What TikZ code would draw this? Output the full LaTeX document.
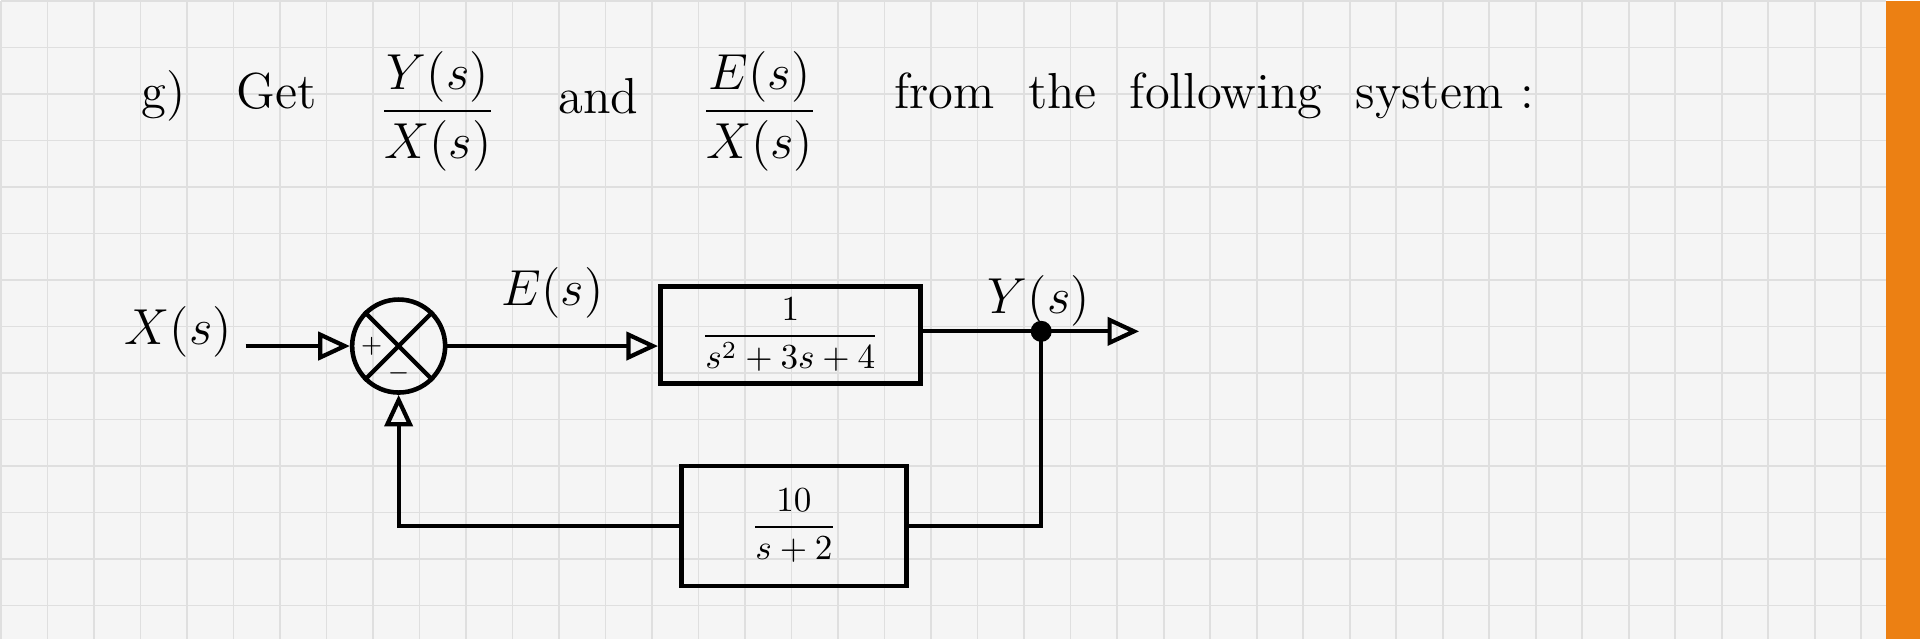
\documentclass[tikz,border=0pt]{standalone}
\usepackage{amsmath}
\usetikzlibrary{arrows.meta}
\begin{document}
\begin{tikzpicture}[x=0.012245cm,y=-0.012245cm,
  wire/.style={line width=1.2pt},
  arr/.style={wire,-{Triangle[open,length=9pt,width=8pt]}},
  lbl/.style={font=\Large}]
\fill[gray!8] (0,0) rectangle (1568,521);
\fill[orange!70!brown] (1540,0) rectangle (1568,521);
\foreach \i in {0,38,...,1540} \draw[gray!25,line width=0.5pt] (\i,0) -- (\i,521);
\foreach \j in {0,38,...,521} \draw[gray!25,line width=0.5pt] (0,\j) -- (1540,\j);
\useasboundingbox (0,0) rectangle (1568,521);
% title
\node[lbl,anchor=west] (t1) at (105,78) {g)\quad Get};
\node[lbl] (f1) at (357,90) {$\dfrac{Y(s)}{X(s)}$};
\node[lbl] (t2) at (488,78) {and};
\node[lbl] (f2) at (620,90) {$\dfrac{E(s)}{X(s)}$};
\node[lbl,anchor=west] (t3) at (720,78) {from\ \ the\ \ following\ \ system\ :};
% diagram
\node[lbl] (x) at (145,270) {$X(s)$};
\node[draw,circle,line width=1.3pt,inner sep=0pt,minimum size=0.93cm] (sum) at (325,282) {};
\draw[wire] (sum.north west) -- (sum.south east) (sum.north east) -- (sum.south west);
\node[font=\scriptsize,inner sep=0pt] (plus) at (303,282) {$+$};
\node[font=\scriptsize,inner sep=0pt] (minus) at (325,304) {$-$};
\node[draw,line width=1.3pt,minimum width=2.6cm,minimum height=0.95cm] (g) at (645,273) {$\dfrac{1}{s^2+3s+4}$};
\node[draw,line width=1.3pt,minimum width=2.25cm,minimum height=1.2cm] (h) at (648,429) {$\dfrac{10}{s+2}$};
\coordinate (in) at (200,282);
\coordinate (b) at (850,270);
\coordinate (out) at (930,270);
\draw[arr] (in) -- (sum.west);
\draw[arr] (sum.east) -- (sum.east -| g.west) node[lbl,midway,above=4pt] (e) {$E(s)$};
\draw[arr] (g.east |- b) -- (out);
\node[lbl] (y) at (848,245) {$Y(s)$};
\fill (b) circle (3pt);
\draw[wire] (b) |- (h.east);
\draw[arr] (h.west) -| (sum.south);
\end{tikzpicture}
\end{document}
